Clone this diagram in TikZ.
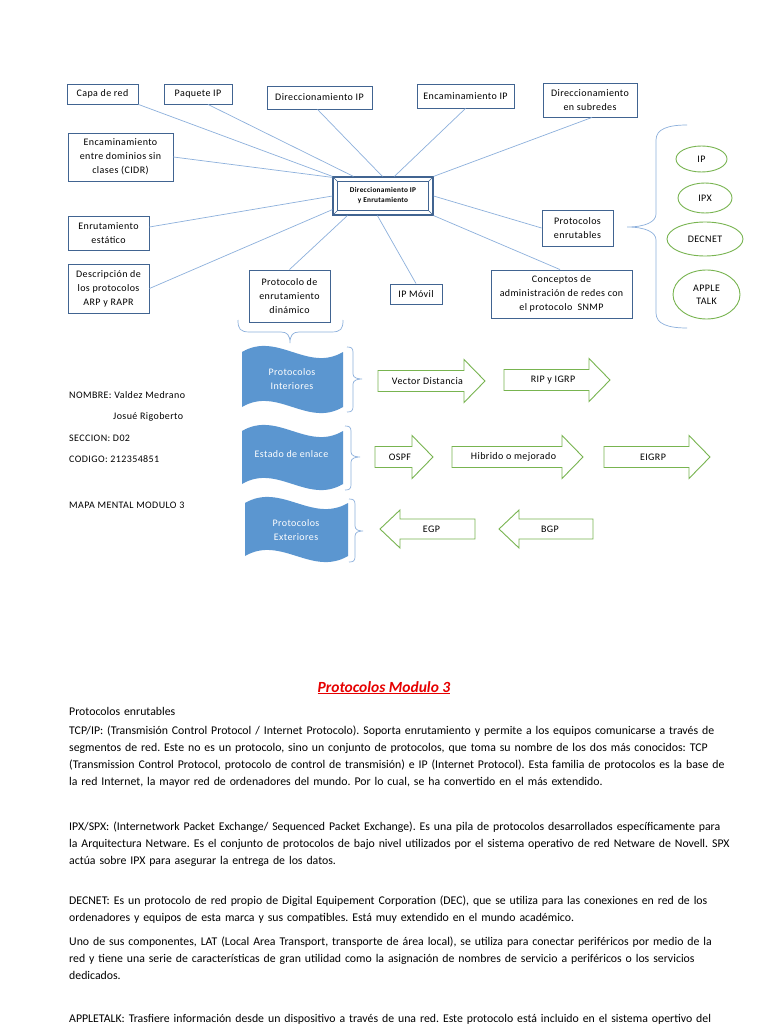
\documentclass[tikz,border=0pt]{standalone}
\usepackage{fontspec}
\setmainfont{Carlito}
\newfontfamily\diagfont{Carlito}[LetterSpace=4]
\usetikzlibrary{shapes.geometric,calc}
\frenchspacing
\definecolor{boxblue}{RGB}{65,100,145}
\definecolor{linkblue}{RGB}{141,176,220}
\definecolor{ovalgreen}{RGB}{120,180,80}
\definecolor{bannerblue}{RGB}{91,150,208}
\definecolor{titlered}{RGB}{230,0,0}
\newcommand\jl[1]{\makebox[659pt][s]{#1}}
\newcommand\rarr[5]{%
  \draw[arrowline] (#2,#4-10.5) -- (#3-21,#4-10.5) -- (#3-21,#4-21.5) -- (#3,#4) -- (#3-21,#4+21.5) -- (#3-21,#4+10.5) -- (#2,#4+10.5) -- cycle;
  \node[arrlbl] (#1) at ({(#2+#3)/2-4},#4) {#5};}
\newcommand\larr[5]{%
  \draw[arrowline] (#3,#4-10) -- (#2+20,#4-10) -- (#2+20,#4-19) -- (#2,#4) -- (#2+20,#4+19) -- (#2+20,#4+10) -- (#3,#4+10) -- cycle;
  \node[arrlbl] (#1) at ({(#2+#3)/2+4},#4) {#5};}
\newcommand\bannershape[4]{%
  \fill[bannerblue] (#1,#3) .. controls ({#1+0.35*(#2-#1)},#3-21) and ({#1+0.65*(#2-#1)},#3+21) .. (#2,#3)
    -- (#2,#4) .. controls ({#1+0.65*(#2-#1)},#4+21) and ({#1+0.35*(#2-#1)},#4-21) .. (#1,#4) -- cycle;}
\newcommand\rbracepath[6]{% xl, xv, xt, ytop, ytip, ybot
  \draw[link] (#1,#4) .. controls (#2-2,#4) and (#2,#4+1) .. (#2,#4+5) -- (#2,#5-5)
    .. controls (#2,#5-1) and (#3-4,#5) .. (#3,#5)
    .. controls (#3-4,#5) and (#2,#5+1) .. (#2,#5+5) -- (#2,#6-5)
    .. controls (#2,#6-1) and (#2-2,#6) .. (#1,#6);}
\tikzset{
  box/.style={draw=boxblue, line width=0.9pt, fill=white, align=center, inner sep=0pt,
    font=\diagfont\fontsize{10}{14}\selectfont},
  link/.style={draw=linkblue, line width=0.7pt},
  oval/.style={ellipse, draw=ovalgreen, line width=0.9pt, fill=white, inner sep=0pt, align=center,
    font=\diagfont\fontsize{10}{13}\selectfont},
  arrowline/.style={draw=ovalgreen, line width=0.9pt, fill=white},
  arrlbl/.style={inner sep=0pt, font=\diagfont\fontsize{10}{12}\selectfont},
  bantext/.style={text=white, align=center, inner sep=0pt, font=\diagfont\fontsize{10}{14}\selectfont},
  info/.style={anchor=base west, inner sep=0pt, font=\diagfont\fontsize{10}{12}\selectfont},
  body/.style={anchor=base west, inner sep=0pt, text width=659pt, align=left,
    font=\fontsize{11.8}{17}\selectfont\frenchspacing}
}
\begin{document}
\begin{tikzpicture}[x=1pt,y=-1pt]
\useasboundingbox (0,0) rectangle (768,1024);
\fill[white] (0,0) rectangle (768,1024);

% ---- mind map boxes
\node[box, minimum width=71pt, minimum height=20pt] (capa) at (102.5,94) {Capa de red};
\node[box, minimum width=68pt, minimum height=20pt] (paq) at (198,94) {Paquete IP};
\node[box, minimum width=105pt, minimum height=23pt] (dirip) at (319.5,97.5) {Direccionamiento IP};
\node[box, minimum width=97pt, minimum height=24pt] (encip) at (465.5,96) {Encaminamiento IP};
\node[box, minimum width=94pt, minimum height=34pt] (subred) at (590,100) {Direccionamiento\\en subredes};
\node[box, minimum width=105pt, minimum height=48pt] (cidr) at (120.5,157) {Encaminamiento\\entre dominios sin\\clases (CIDR)};
\node[box, minimum width=81pt, minimum height=34pt] (estat) at (108.5,233) {Enrutamiento\\estático};
\node[box, minimum width=81pt, minimum height=49pt] (arp) at (108.5,288.5) {Descripción de\\los protocolos\\ARP y RAPR};
\node[box, minimum width=81pt, minimum height=52pt] (dinam) at (289.5,296) {Protocolo de\\enrutamiento\\dinámico};
\node[box, minimum width=52pt, minimum height=20pt] (movil) at (416,294) {IP Móvil};
\node[box, minimum width=71pt, minimum height=36pt] (penr) at (577.5,228) {Protocolos\\enrutables};
\node[box, minimum width=141pt, minimum height=48pt] (snmp) at (561.5,294) {Conceptos de\\administración de redes con\\el protocolo\ \ SNMP};

% ---- central bevel node
\node[draw=boxblue, line width=1.2pt, fill=white, minimum width=100pt, minimum height=38pt,
  inner sep=0pt, align=center, font=\diagfont\fontsize{7.3}{10}\selectfont\bfseries] (c) at (383,196)
  {Direccionamiento IP\\y Enrutamiento};
\draw[boxblue, line width=0.6pt] ($(c.north west)+(5,5)$) rectangle ($(c.south east)+(-5,-5)$);
\draw[boxblue, line width=0.6pt] (c.north west) -- ($(c.north west)+(5,5)$)
  (c.north east) -- ($(c.north east)+(-5,5)$)
  (c.south west) -- ($(c.south west)+(5,-5)$)
  (c.south east) -- ($(c.south east)+(-5,-5)$);

% ---- connectors
\draw[link] (capa.south east) -- (c.north west);
\draw[link] ($(paq.south)+(10,0)$) -- ($(c.north west)+(21,0)$);
\draw[link] ($(dirip.south)+(-2,0)$) -- ($(c.north west)+(50,0)$);
\draw[link] (encip.south) -- ($(c.north west)+(62,0)$);
\draw[link] ($(subred.south)+(2,0)$) -- (c.north east);
\draw[link] (cidr.east) -- ($(c.north west)+(0,1)$);
\draw[link] ($(estat.east)+(0,-6)$) -- (c.west);
\draw[link] (arp.east) -- ($(c.south west)+(0,-6)$);
\draw[link] (dinam.north) -- ($(c.south west)+(15,0)$);
\draw[link] (movil.north) -- ($(c.south west)+(45,0)$);
\draw[link] (c.east) -- (penr.west);
\draw[link] (c.south east) -- ($(snmp.north)+(-1.5,0)$);

% ---- brace and ovals on the right
\draw[link] (687,125) .. controls (668,125) and (656,129) .. (656,140) -- (656,214)
  .. controls (656,222) and (645,227) .. (627,227)
  .. controls (645,227) and (656,232) .. (656,240) -- (656,313)
  .. controls (656,324) and (668,328) .. (687,328);
\node[oval, minimum width=51pt, minimum height=26pt] (ip) at (701.5,159) {IP};
\node[oval, minimum width=54pt, minimum height=30pt] (ipx) at (705,198) {IPX};
\node[oval, minimum width=76pt, minimum height=34pt] (decnet) at (705,239) {DECNET};
\node[oval, minimum width=67pt, minimum height=49pt] (apple) at (706.5,294.5) {APPLE\\TALK};

% ---- brace under dynamic routing box
\draw[link] (238,320) .. controls (238,329) and (240,332) .. (250,332) -- (281,332)
  .. controls (287,332) and (290,335) .. (290,343)
  .. controls (290,335) and (293,332) .. (299,332) -- (331,332)
  .. controls (341,332) and (343,329) .. (343,320);

% ---- banners
\bannershape{242}{343}{352}{407}
\bannershape{242}{343}{431}{484}
\bannershape{245}{348}{503}{556}
\node[bantext] (bint) at (292,379) {Protocolos\\Interiores};
\node[bantext] (best) at (291.5,454) {Estado de enlace};
\node[bantext] (bext) at (296,530.5) {Protocolos\\Exteriores};
\rbracepath{347}{353}{362}{347}{379}{412}
\rbracepath{345}{351}{360}{426}{457}{490}
\rbracepath{349}{355}{363}{499}{531}{562}

% ---- block arrows
\rarr{vd}{378}{485}{381}{Vector Distancia}
\rarr{rip}{504}{610}{380}{RIP y IGRP}
\rarr{ospf}{375}{433}{457}{OSPF}
\rarr{hib}{452}{583}{457}{Hibrido o mejorado}
\rarr{eigrp}{604}{710}{457}{EIGRP}
\larr{egp}{380}{475}{529}{EGP}
\larr{bgp}{499}{593}{529}{BGP}

% ---- student info
\node[info] (nombre) at (69,398.5) {NOMBRE: Valdez Medrano};
\node[info] (josue) at (113,419.5) {Josué Rigoberto};
\node[info] (seccion) at (69,441.5) {SECCION: D02};
\node[info] (codigo) at (69,462.5) {CODIGO: 212354851};
\node[info] (mapa) at (69,508.5) {MAPA MENTAL MODULO 3};

% ---- text part
\node[anchor=base, inner sep=0pt, text=titlered, font=\fontsize{15.5}{18}\selectfont\bfseries\itshape] (title) at (384,692) {\underline{Protocolos Modulo 3}};
\node[body] (p0) at (69,715.5) {Protocolos enrutables};
\node[body] (p1) at (69,734.5) {\jl{TCP/IP: (Transmisión Control Protocol / Internet Protocolo). Soporta enrutamiento y permite a los equipos comunicarse a través de}\\
\jl{segmentos de red. Este no es un protocolo, sino un conjunto de protocolos, que toma su nombre de los dos más conocidos: TCP}\\
\jl{(Transmission Control Protocol, protocolo de control de transmisión) e IP (Internet Protocol). Esta familia de protocolos es la base de}\\
la red Internet, la mayor red de ordenadores del mundo. Por lo cual, se ha convertido en el más extendido.};
\node[body] (p2) at (69,830.5) {\jl{IPX/SPX: (Internetwork Packet Exchange/ Sequenced Packet Exchange). Es una pila de protocolos desarrollados específicamente para}\\
\jl{la Arquitectura Netware. Es el conjunto de protocolos de bajo nivel utilizados por el sistema operativo de red Netware de Novell. SPX}\\
actúa sobre IPX para asegurar la entrega de los datos.};
\node[body] (p3) at (69,904.5) {\jl{DECNET: Es un protocolo de red propio de Digital Equipement Corporation (DEC), que se utiliza para las conexiones en red de los}\\
ordenadores y equipos de esta marca y sus compatibles. Está muy extendido en el mundo académico.};
\node[body] (p4) at (69,945.5) {\jl{Uno de sus componentes, LAT (Local Area Transport, transporte de área local), se utiliza para conectar periféricos por medio de la}\\
\jl{red y tiene una serie de características de gran utilidad como la asignación de nombres de servicio a periféricos o los servicios}\\
dedicados.};
\node[body] (p5) at (69,1022.5) {\jl{APPLETALK: Trasfiere información desde un dispositivo a través de una red. Este protocolo está incluido en el sistema opertivo del}};
\end{tikzpicture}
\end{document}
